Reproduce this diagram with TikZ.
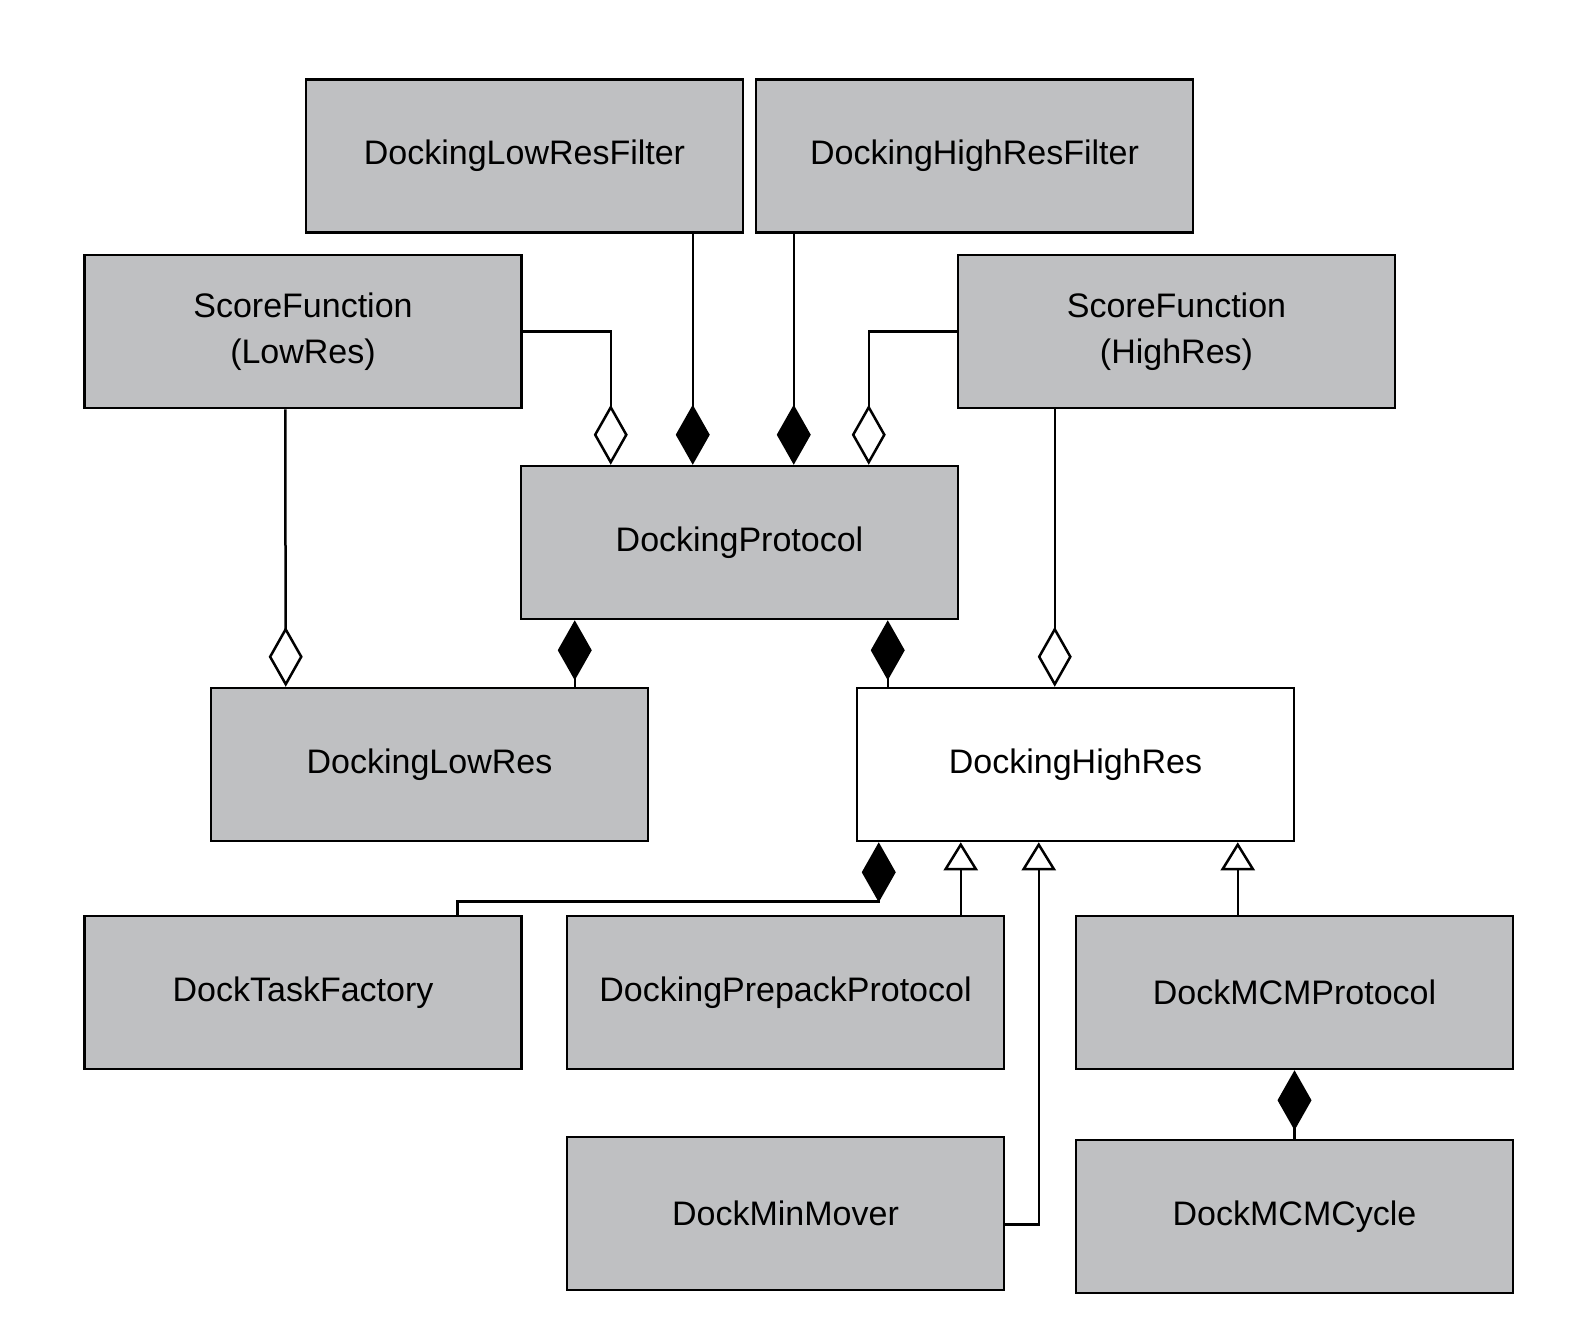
\documentclass[tikz,border=0pt]{standalone}
\usepackage{fontspec}
\setmainfont{Liberation Sans}
\usetikzlibrary{arrows.meta}
\definecolor{boxgray}{RGB}{191,192,194}
\begin{document}
\begin{tikzpicture}[x=1pt,y=-1pt,
  cls/.style={draw,line width=2.5pt,fill=boxgray,minimum width=437pt,minimum height=153pt,inner sep=0pt,align=center,font=\fontsize{34}{46}\selectfont},
  ln/.style={line width=2.5pt},
  agg/.style={ln,-{Diamond[open,fill=white,length=60pt,width=34pt,line width=2.5pt]}},
  comp/.style={ln,-{Diamond[length=60pt,width=34pt]}},
  compS/.style={ln,{Diamond[length=60pt,width=34pt]}-},
  inh/.style={ln,-{Triangle[open,fill=white,length=28pt,width=34pt,line width=2.5pt]}}]
\useasboundingbox (0,0) rectangle (1584,1338);
\node[cls] (LRF) at (524.5,156) {DockingLowResFilter};
\node[cls] (HRF) at (974.5,156) {DockingHighResFilter};
\node[cls] (SFL) at (303,331.5) {ScoreFunction\\(LowRes)};
\node[cls] (SFH) at (1176.5,331.5) {ScoreFunction\\(HighRes)};
\node[cls] (DP) at (739.5,542.5) {DockingProtocol};
\node[cls] (DLR) at (429.5,764.5) {DockingLowRes};
\node[cls,fill=white] (DHR) at (1075.5,764.5) {DockingHighRes};
\node[cls] (DTF) at (303,992.5) {DockTaskFactory};
\node[cls] (DPP) at (785.5,992.5) {DockingPrepackProtocol};
\node[cls] (MCMP) at (1294.5,992.5) {DockMCMProtocol};
\node[cls] (DMM) at (785.5,1213.5) {DockMinMover};
\node[cls] (MCMC) at (1294.5,1216.5) {DockMCMCycle};

\draw[agg] (SFL.east) -| ([xshift=91pt]DP.north west);
\draw[comp] ([xshift=388pt]LRF.south west) -- ([xshift=173pt]DP.north west);
\draw[comp] ([xshift=39pt]HRF.south west) -- ([xshift=274pt]DP.north west);
\draw[agg] (SFH.west) -| ([xshift=349pt]DP.north west);
\draw[agg] ([xshift=202pt]SFL.south west) -- ([xshift=76pt]DLR.north west);
\draw[compS] ([xshift=55pt]DP.south west) -- ([xshift=365pt]DLR.north west);
\draw[compS] ([xshift=368pt]DP.south west) -- ([xshift=32pt]DHR.north west);
\draw[agg] ([xshift=98pt]SFH.south west) -- ([xshift=199pt]DHR.north west);
\draw[compS] ([xshift=23pt]DHR.south west) -- ++(0,59) -| ([xshift=374pt]DTF.north west);
\draw[inh] ([xshift=395pt]DPP.north west) -- ([xshift=105pt]DHR.south west);
\draw[inh] ([yshift=-11pt]DMM.east) -| ([xshift=183pt]DHR.south west);
\draw[inh] ([xshift=163pt]MCMP.north west) -- ([xshift=382pt]DHR.south west);
\draw[compS] (MCMP.south) -- (MCMC.north);
\end{tikzpicture}
\end{document}
